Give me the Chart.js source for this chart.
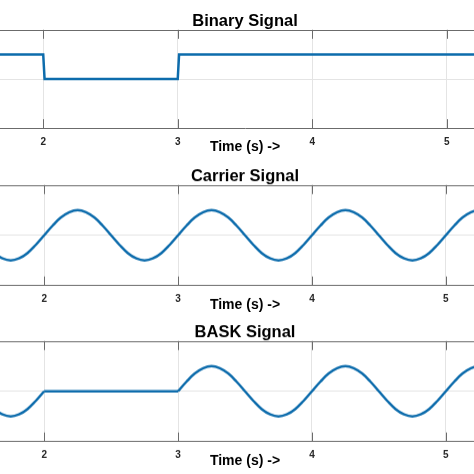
<!DOCTYPE html>
<html lang="en">
<head>
  <meta charset="UTF-8">
  <title>BASK Signal</title>
  <style>
    html, body { margin: 0; padding: 0; background: #fff; overflow: hidden; width: 474px; height: 474px; }
    .panel { position: absolute; left: -20px; width: 530px; height: 155px; }
  </style>
</head>
<body>
  <div class="panel" style="top:0"><canvas id="binary"></canvas></div>
  <div class="panel" style="top:155px;height:156.5px"><canvas id="carrier"></canvas></div>
  <div class="panel" style="top:311px;height:156.5px"><canvas id="bask"></canvas></div>
  <script src="https://cdn.jsdelivr.net/npm/chart.js@4"></script>
  <script>
    // values
    const timeTicks = [2, 3, 4, 5];
    const yGrid = [0];

    const binaryTime = [1.5, 2, 2.01, 3, 3.01, 5.5];
    const binaryValues = [1, 1, 0, 0, 1, 1];

    const time = [
      1.5, 1.5625, 1.625, 1.6875, 1.75, 1.8125, 1.875, 1.9375,
      2, 2.0625, 2.125, 2.1875, 2.25, 2.3125, 2.375, 2.4375,
      2.5, 2.5625, 2.625, 2.6875, 2.75, 2.8125, 2.875, 2.9375,
      3, 3.0625, 3.125, 3.1875, 3.25, 3.3125, 3.375, 3.4375,
      3.5, 3.5625, 3.625, 3.6875, 3.75, 3.8125, 3.875, 3.9375,
      4, 4.0625, 4.125, 4.1875, 4.25, 4.3125, 4.375, 4.4375,
      4.5, 4.5625, 4.625, 4.6875, 4.75, 4.8125, 4.875, 4.9375,
      5, 5.0625, 5.125, 5.1875, 5.25, 5.3125, 5.375, 5.4375,
      5.5
    ];
    const carrierValues = [
      0, -0.38, -0.71, -0.92, -1, -0.92, -0.71, -0.38,
      0, 0.38, 0.71, 0.92, 1, 0.92, 0.71, 0.38,
      0, -0.38, -0.71, -0.92, -1, -0.92, -0.71, -0.38,
      0, 0.38, 0.71, 0.92, 1, 0.92, 0.71, 0.38,
      0, -0.38, -0.71, -0.92, -1, -0.92, -0.71, -0.38,
      0, 0.38, 0.71, 0.92, 1, 0.92, 0.71, 0.38,
      0, -0.38, -0.71, -0.92, -1, -0.92, -0.71, -0.38,
      0, 0.38, 0.71, 0.92, 1, 0.92, 0.71, 0.38,
      0
    ];
    const baskValues = [
      0, -0.38, -0.71, -0.92, -1, -0.92, -0.71, -0.38,
      0, 0, 0, 0, 0, 0, 0, 0,
      0, 0, 0, 0, 0, 0, 0, 0,
      0, 0.38, 0.71, 0.92, 1, 0.92, 0.71, 0.38,
      0, -0.38, -0.71, -0.92, -1, -0.92, -0.71, -0.38,
      0, 0.38, 0.71, 0.92, 1, 0.92, 0.71, 0.38,
      0, -0.38, -0.71, -0.92, -1, -0.92, -0.71, -0.38,
      0, 0.38, 0.71, 0.92, 1, 0.92, 0.71, 0.38,
      0
    ];

    const family = '"Liberation Sans", Arial, sans-serif';
    const lineColor = '#0d6cac';

    const points = (xs, ys) => xs.map((x, i) => ({x: x, y: ys[i]}));

    function series(data, smooth) {
      return {
        data: data,
        borderColor: lineColor,
        borderWidth: 2.5,
        pointRadius: 0,
        fill: false,
        tension: smooth ? 0.4 : 0
      };
    }

    // box top edge and inward tick marks like matlab
    const frame = {
      id: 'frame',
      beforeDatasetsDraw(chart) {
        const {ctx, chartArea: a, scales: {x}} = chart;
        ctx.save();
        ctx.strokeStyle = '#6b6b6b';
        ctx.lineWidth = 1;
        ctx.beginPath();
        ctx.moveTo(a.left, Math.round(a.top) + 0.5);
        ctx.lineTo(a.right, Math.round(a.top) + 0.5);
        x.ticks.forEach(t => {
          const px = Math.round(x.getPixelForValue(t.value)) + 0.5;
          ctx.moveTo(px, a.top);
          ctx.lineTo(px, a.top + 9);
          ctx.moveTo(px, a.bottom);
          ctx.lineTo(px, a.bottom - 9);
        });
        ctx.stroke();
        ctx.restore();
      }
    };

    function makeChart(id, title, datasets) {
      return new Chart(document.getElementById(id), {
        type: 'line',
        data: { datasets: datasets },
        options: {
          responsive: true,
          maintainAspectRatio: false,
          animation: false,
          layout: { padding: 0 },
          plugins: {
            legend: { display: false },
            tooltip: { enabled: false },
            title: {
              display: true,
              text: title,
              color: '#000',
              font: { family: family, size: 16.5, weight: 'bold' },
              padding: { top: 12, bottom: -2 }
            }
          },
          scales: {
            x: {
              type: 'linear',
              min: 1.53,
              max: 5.47,
              afterBuildTicks: s => { s.ticks = timeTicks.map(v => ({value: v})); },
              grid: { color: '#e4e4e4', drawTicks: false },
              border: { color: '#6b6b6b' },
              ticks: { padding: 8, color: '#262626', font: { family: family, size: 10, weight: 'bold' } },
              title: {
                display: true,
                text: 'Time (s) ->',
                color: '#000',
                font: { family: family, size: 14, weight: 'bold' },
                padding: { top: -17, bottom: -1 }
              }
            },
            y: {
              min: -2,
              max: 2,
              afterBuildTicks: s => { s.ticks = yGrid.map(v => ({value: v})); },
              grid: { color: '#e4e4e4', drawTicks: false },
              border: { display: false },
              ticks: { display: false }
            }
          }
        },
        plugins: [frame]
      });
    }

    makeChart('binary', 'Binary Signal', [series(points(binaryTime, binaryValues), false)]);
    makeChart('carrier', 'Carrier Signal', [series(points(time, carrierValues), true)]);

    // bask drawn as three pieces so the joins at t=2 and t=3 stay sharp
    const i2 = time.indexOf(2), i3 = time.indexOf(3);
    makeChart('bask', 'BASK Signal', [
      series(points(time.slice(0, i2 + 1), baskValues.slice(0, i2 + 1)), true),
      series(points(time.slice(i2, i3 + 1), baskValues.slice(i2, i3 + 1)), false),
      series(points(time.slice(i3), baskValues.slice(i3)), true)
    ]);
  </script>
</body>
</html>
